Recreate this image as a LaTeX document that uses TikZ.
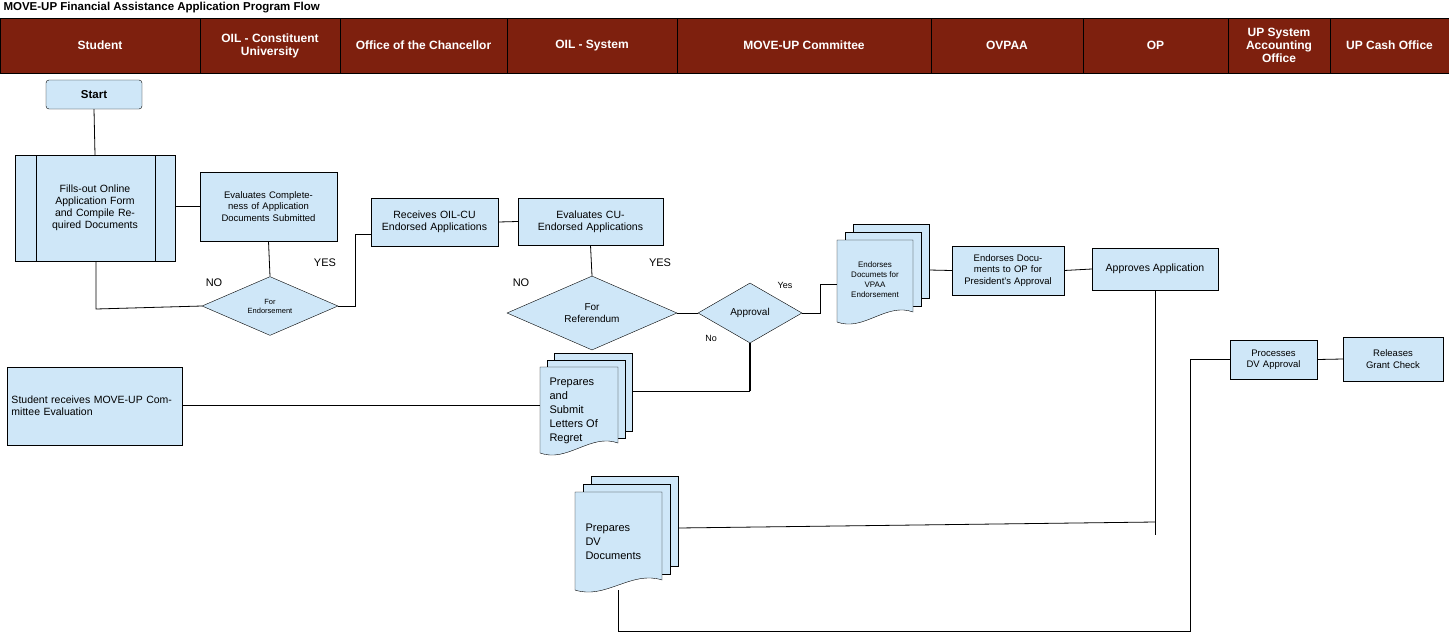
\documentclass[tikz,border=0pt]{standalone}
\usepackage{fontspec}
\setmainfont{Liberation Sans}
\usetikzlibrary{shapes.geometric}
\definecolor{fillb}{HTML}{CFE7F8}
\definecolor{hdr}{HTML}{7E200E}
\newcommand\mydocstack[6]{% name, x, y, w, h, dx
  \foreach \k in {2,1}{\draw[fill=fillb] (#2+\k*#6,#3-\k*#6) rectangle (#2+\k*#6+#4,#3-\k*#6+#5-12);}
  \draw[fill=fillb] (#2,#3) -- (#2+#4,#3) -- (#2+#4,#3+#5-14)
     .. controls (#2+0.65*#4,#3+#5-24) and (#2+0.35*#4,#3+#5+6) .. (#2,#3+#5-4) -- cycle;
  \node[minimum width=#4, minimum height=#5, inner sep=0] (#1) at (#2+#4/2,#3+#5/2) {};}
\begin{document}
\begin{tikzpicture}[x=1pt,y=-1pt,
  box/.style={draw, fill=fillb, align=center, inner sep=1pt, font=\fontsize{10.5}{12}\selectfont},
  dia/.style={draw, fill=fillb, align=center, font=\fontsize{9}{10}\selectfont},
  hd/.style={text=white, font=\bfseries\fontsize{12}{13}\selectfont, align=center},
  lbl/.style={font=\fontsize{11}{12}\selectfont},
  ln/.style={draw, line width=0.8pt}]
\useasboundingbox (0,0) rectangle (1449,638);
\node[anchor=west, font=\bfseries\fontsize{11.5}{12}\selectfont] (title) at (0,8) {MOVE-UP Financial Assistance Application Program Flow};
\fill[hdr] (0,18) rectangle (1449,73);
\foreach \xa/\xb/\t [count=\i] in {0/200/Student, 200/340/{OIL - Constituent\\University}, 340/507/Office of the Chancellor, 507/677/OIL - System, 677/931/MOVE-UP Committee, 931/1083/OVPAA, 1083/1228/OP, 1228/1330/{UP System\\Accounting\\Office}, 1330/1449/UP Cash Office}{
  \draw[black, line width=0.8pt] (\xa,18) rectangle (\xb,73);
  \node[hd] (h\i) at ({(\xa+\xb)/2},45.5) {\t};}
% nodes
\node[box, rounded corners=3pt, minimum width=96, minimum height=29, font=\bfseries\fontsize{11.5}{12}\selectfont] (start) at (94,94.5) {Start};
\node[box, minimum width=160, minimum height=106, text width=110] (fill) at (95,208) {Fills-out Online Application Form and Compile Required Documents};
\draw (36,155) -- (36,261) (155,155) -- (155,261);
\node[box, minimum width=137, minimum height=69, text width=132, font=\fontsize{9.5}{11.5}\selectfont] (evc) at (268.5,206.5) {Evaluates Completeness of Application Documents Submitted};
\node[dia, diamond, minimum width=136, minimum height=50, inner sep=0, font=\fontsize{7.5}{9}\selectfont] (fe) at (270,306) {For\\Endorsement};
\node[box, minimum width=127, minimum height=48, text width=122] (rec) at (434.5,222) {Receives OIL-CU Endorsed Applications};
\node[box, minimum width=145, minimum height=47, text width=140] (ecu) at (590.5,221.5) {Evaluates CU-Endorsed Applications};
\node[dia, diamond, minimum width=170, minimum height=48, inner sep=0, font=\fontsize{10}{12}\selectfont] (ref) at (592,313) {For\\Referendum};
\node[dia, diamond, minimum width=104, minimum height=60, inner sep=0, font=\fontsize{10}{12}\selectfont] (app) at (750,313) {Approval};
\mydocstack{evp}{837}{240}{76}{86}{8}
\node[align=center, font=\fontsize{8}{10}\selectfont] at (875,280) {Endorses\\Documets for\\VPAA\\Endorsement};
\node[box, minimum width=112, minimum height=49, text width=108, font=\fontsize{9.5}{11.5}\selectfont] (eop) at (1008,270.5) {Endorses Documents to OP for President's Approval};
\node[box, minimum width=126, minimum height=42] (apa) at (1155,269) {Approves Application};
\node[box, minimum width=87, minimum height=39, text width=84, font=\fontsize{9.5}{11.5}\selectfont] (pdv) at (1273.5,359.5) {Processes DV Approval};
\node[box, minimum width=100, minimum height=44, text width=96, font=\fontsize{9.5}{11.5}\selectfont] (rgc) at (1393,359) {Releases Grant Check};
\node[box, minimum width=175, minimum height=78, text width=166, align=left] (stu) at (94.5,406) {Student receives MOVE-UP Committee Evaluation};
\mydocstack{let}{540}{367}{78}{90}{7}
\node[align=left, anchor=north west, font=\fontsize{11}{14}\selectfont] at (546,374) {Prepares\\and\\Submit\\Letters Of\\Regret};
\mydocstack{dv}{575}{492}{87}{102}{8}
\node[align=left, anchor=north west, font=\fontsize{11}{14}\selectfont] at (582,520) {Prepares\\DV\\Documents};
% connectors
\coordinate (c1) at (96,309);
\coordinate (c2) at (355,234);
\coordinate (c3) at (820,284);
\coordinate (c4) at (750,391);
\coordinate (c5) at (618,631);
\coordinate (c6) at (1190,631);
\coordinate (c7) at (1155,535);
\draw[ln] (start.south) -- (fill.north);
\draw[ln] (fill.east |- evc.west) -- (evc.west);
\draw[ln] (96,261) -- (c1) -- (fe.west);
\draw[ln] (evc.south) -- (fe.north);
\draw[ln] (fe.east) -| (c2) -- (rec.west |- c2);
\draw[ln] (rec.east) -- (ecu.west);
\draw[ln] (ecu.south) -- (ref.north);
\draw[ln] (ref.east) -- (app.west);
\draw[ln] (app.east) -| (c3) -- (evp.west |- c3);
\draw[ln] (929,270) -- (eop.west);
\draw[ln] (eop.east) -- (apa.west);
\draw[line width=1.6pt] (app.south) -- (c4);
\draw[ln] (c4) -- (632,391);
\draw[ln] (let.west |- 0,405) -- (stu.east |- 0,405);
\draw[ln] (apa.south) -- (c7);
\draw[ln] (678,528) -- (1155,522);
\draw[ln] (618,590) -- (c5) -- (c6) |- (pdv.west);
\draw[ln] (pdv.east) -- (rgc.west);
% labels
\node[lbl] (l1) at (214,283) {NO};
\node[lbl] (l2) at (325,263) {YES};
\node[lbl] (l3) at (521,283) {NO};
\node[lbl] (l4) at (660,263) {YES};
\node[lbl, font=\fontsize{9}{10}\selectfont] (l5) at (785,285) {Yes};
\node[lbl, font=\fontsize{9}{10}\selectfont] (l6) at (711,338) {No};
\end{tikzpicture}
\end{document}
